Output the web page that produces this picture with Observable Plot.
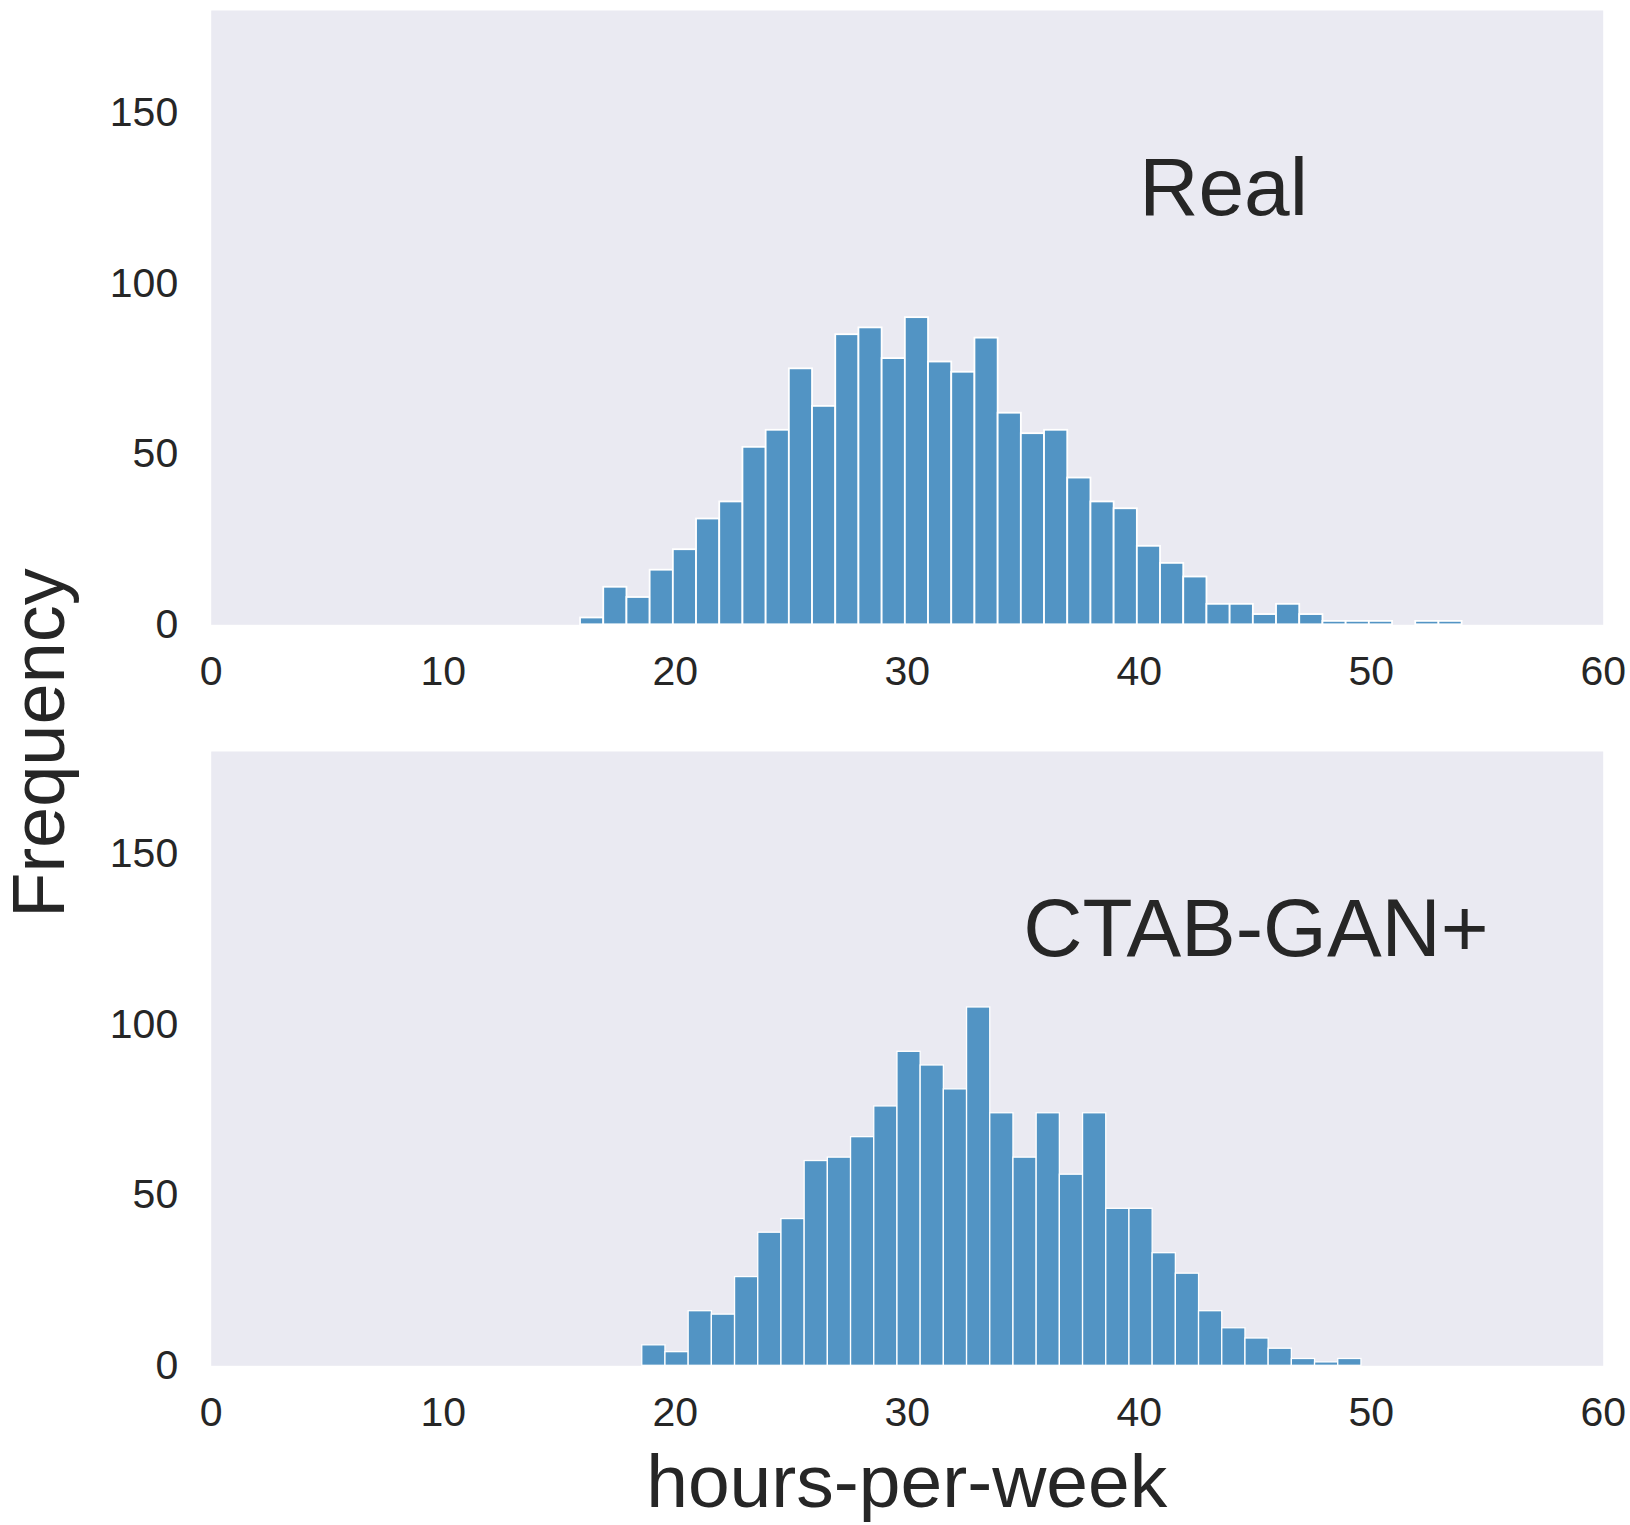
<!DOCTYPE html>
<html>
<head>
<meta charset="utf-8">
<script src="https://cdn.jsdelivr.net/npm/d3@7"></script>
<script src="https://cdn.jsdelivr.net/npm/@observablehq/plot@0.6"></script>
<style>
  html, body { margin: 0; padding: 0; background: #ffffff; }
  #wrap { position: relative; width: 1630px; height: 1525px; overflow: hidden; }
  #wrap > svg { position: absolute; left: 0; }
</style>
</head>
<body>
<div id="wrap"></div>
<script>
// ---------- data ----------
const xTicks = [0, 10, 20, 30, 40, 50, 60];
const yTicks = [0, 50, 100, 150];
const binWidth = 1.0;

const realTitle = "Real";
const realBinStart = 15.92;
const realCounts = [2, 11, 8, 16, 22, 31, 36, 52, 57, 75, 64, 85, 87, 78, 90, 77, 74, 84, 62, 56,
                    57, 43, 36, 34, 23, 18, 14, 6, 6, 3, 6, 3, 1, 1, 1, 0, 1, 1];

const synthTitle = "CTAB-GAN+";
const synthBinStart = 18.58;
const synthCounts = [6, 4, 16, 15, 26, 39, 43, 60, 61, 67, 76, 92, 88, 81, 105, 74, 61, 74, 56, 74,
                     46, 46, 33, 27, 16, 11, 8, 5, 2, 1, 2];

const xLabel = "hours-per-week";
const yLabel = "Frequency";

// ---------- helpers ----------
const FONT = "'Liberation Sans', Arial, 'DejaVu Sans', sans-serif";
const TEXT = "#262626";

function binsOf(start, counts) {
  return counts.map((c, i) => ({x1: start + i * binWidth, x2: start + (i + 1) * binWidth, count: c}))
               .filter(d => d.count > 0);
}

function panel({counts, start, title, titleX, height, marginTop, marginBottom, strokeWidth}) {
  return Plot.plot({
    width: 1630,
    height,
    marginLeft: 210.7,
    marginRight: 27.3,
    marginTop,
    marginBottom,
    style: {background: "transparent", fontFamily: FONT, fontSize: "41px", color: TEXT, overflow: "visible"},
    x: {domain: [0, 60], ticks: xTicks, tickSize: 0, tickPadding: 31, label: null, tickFormat: d => String(d)},
    y: {domain: [0, 180], ticks: yTicks, tickSize: 0, tickPadding: 33, label: null, tickFormat: d => String(d)},
    marks: [
      Plot.frame({fill: "#EAEAF2", stroke: null}),
      Plot.rectY(binsOf(start, counts), {
        x1: "x1", x2: "x2", y: "count",
        fill: "#1f77b4", fillOpacity: 0.75,
        stroke: "white", strokeWidth
      }),
      Plot.text([title], {
        x: titleX, y: 120,
        text: d => d, textAnchor: "start", lineAnchor: "middle",
        dy: -0.32 * 82, fontSize: 82, fill: TEXT, fontFamily: FONT
      })
    ]
  });
}

const wrap = document.getElementById("wrap");

const topPanel = panel({counts: realCounts, start: realBinStart, title: realTitle, titleX: 40,
                   height: 700, marginTop: 10, marginBottom: 75.7, strokeWidth: 1.8});
topPanel.style.top = "0px";
wrap.appendChild(topPanel);

const bottomPanel = panel({counts: synthCounts, start: synthBinStart, title: synthTitle, titleX: 35,
                      height: 825, marginTop: 51, marginBottom: 159.7, strokeWidth: 1.3});
bottomPanel.style.top = "700px";
wrap.appendChild(bottomPanel);

// axis titles
const overlay = d3.create("svg")
  .attr("width", 1630).attr("height", 1525)
  .style("top", "0px").style("pointer-events", "none")
  .style("font-family", FONT);

overlay.append("text")
  .attr("x", 906.7).attr("y", 1506.7)
  .attr("text-anchor", "middle")
  .attr("font-size", 75).attr("fill", TEXT)
  .text(xLabel);

overlay.append("text")
  .attr("transform", "translate(64,743) rotate(-90)")
  .attr("text-anchor", "middle")
  .attr("font-size", 74).attr("fill", TEXT)
  .text(yLabel);

wrap.appendChild(overlay.node());
</script>
</body>
</html>
